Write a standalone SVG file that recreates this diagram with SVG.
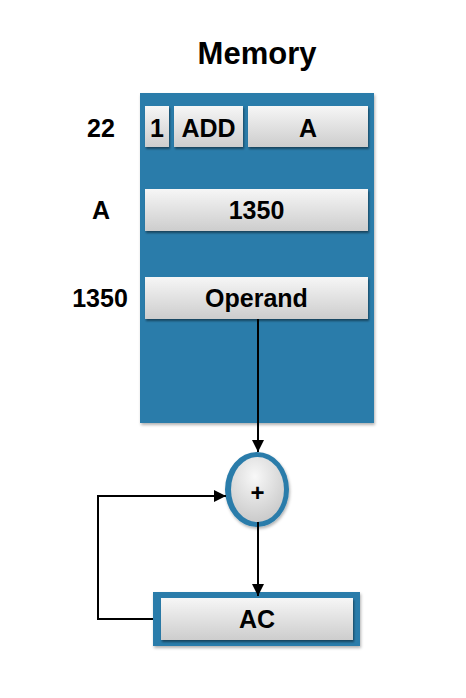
<svg xmlns="http://www.w3.org/2000/svg" width="466" height="698" viewBox="0 0 466 698">
<style>
text{font-family:"Liberation Sans",Arial,sans-serif;font-weight:bold;fill:#000;}
.cell{fill:url(#g);filter:url(#sh);}
.blue{fill:#2a7caa;}
.c{text-anchor:middle;font-size:25px;}
.conn{fill:none;stroke:#000;stroke-width:2;}
</style>
<defs>
<linearGradient id="g" x1="0" y1="0" x2="0" y2="1">
<stop offset="0" stop-color="#f6f6f6"/>
<stop offset="1" stop-color="#cdcdcd"/>
</linearGradient>
<radialGradient id="rg" cx="0.45" cy="0.3" r="0.8">
<stop offset="0" stop-color="#f8f8f8"/>
<stop offset="1" stop-color="#c4c4c4"/>
</radialGradient>
<filter id="sh" x="-10%" y="-20%" width="130%" height="160%">
<feDropShadow dx="1" dy="2" stdDeviation="1.2" flood-color="#000" flood-opacity="0.45"/>
</filter>
<filter id="sh2" x="-10%" y="-10%" width="130%" height="130%">
<feDropShadow dx="1" dy="2" stdDeviation="1.5" flood-color="#000" flood-opacity="0.3"/>
</filter>
<marker id="ah" viewBox="0 0 10 10" refX="10" refY="5" markerWidth="6" markerHeight="6" orient="auto" markerUnits="strokeWidth">
<path d="M0,0 L10,5 L0,10 z" fill="#000"/>
</marker>
</defs>
<text x="257" y="64" text-anchor="middle" font-size="31">Memory</text>
<g id="memory">
<rect class="blue" x="140" y="93" width="234" height="330" filter="url(#sh2)"/>
</g>
<g id="labels">
<text class="c" x="101" y="137">22</text>
<text class="c" x="101" y="219">A</text>
<text class="c" x="100" y="307">1350</text>
</g>
<g id="cell-1">
<rect class="cell" x="145" y="106" width="24" height="41"/>
<text class="c" x="157" y="137">1</text>
</g>
<g id="cell-add">
<rect class="cell" x="174" y="106" width="69" height="41"/>
<text class="c" x="208.5" y="137">ADD</text>
</g>
<g id="cell-a">
<rect class="cell" x="248" y="106" width="120" height="41"/>
<text class="c" x="308" y="137">A</text>
</g>
<g id="cell-1350">
<rect class="cell" x="145" y="189" width="223" height="42"/>
<text class="c" x="256.5" y="219">1350</text>
</g>
<g id="cell-operand">
<rect class="cell" x="145" y="277" width="223" height="42"/>
<text class="c" x="256.5" y="307">Operand</text>
</g>
<g id="adder">
<ellipse cx="257" cy="489.5" rx="32" ry="37.5" class="blue" filter="url(#sh2)"/>
<ellipse cx="257.5" cy="489.5" rx="26.5" ry="32.5" fill="url(#rg)"/>
<text x="257.5" y="501" text-anchor="middle" font-size="24">+</text>
</g>
<g id="ac">
<rect class="blue" x="153" y="592" width="207" height="54" filter="url(#sh2)"/>
<rect class="cell" x="161" y="598" width="192" height="42"/>
<text class="c" x="257" y="628">AC</text>
</g>
<g id="connectors">
<path class="conn" d="M258,319 L258,452" marker-end="url(#ah)"/>
<path class="conn" d="M258,522 L258,596" marker-end="url(#ah)"/>
<path class="conn" d="M153,619 L98,619 L98,496 L226,496" marker-end="url(#ah)"/>
</g>
</svg>
